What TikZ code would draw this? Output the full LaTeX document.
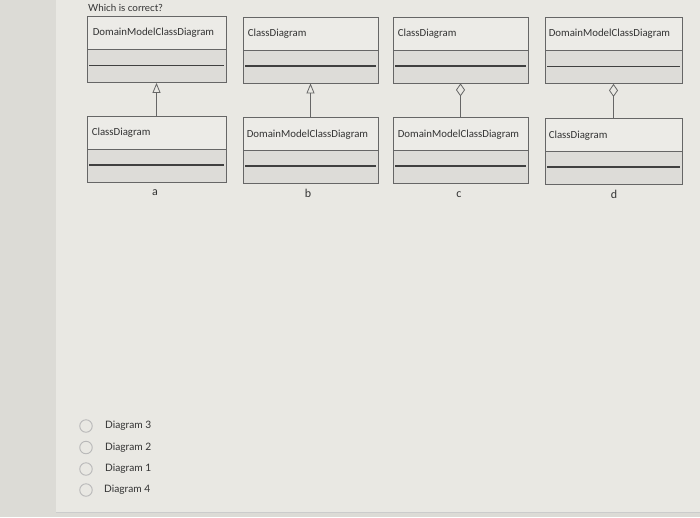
\documentclass[tikz,border=0pt]{standalone}
\usepackage{fontspec}
\setmainfont{Carlito}
\newfontfamily\uifont{Lato}
\usetikzlibrary{arrows.meta}
\definecolor{strip}{HTML}{DCDBD6}
\definecolor{panel}{HTML}{E9E8E3}
\definecolor{namefill}{HTML}{ECEBE7}
\definecolor{compfill}{HTML}{DDDCD8}
\definecolor{boxline}{HTML}{666666}
\definecolor{txt}{HTML}{333333}
\tikzset{
  cls/.style={draw=boxline, line width=0.8pt, fill=namefill, rectangle,
    minimum width=#1, minimum height=66pt, inner sep=0pt,
    path picture={
      \fill[compfill] ([yshift=-33pt]path picture bounding box.north west)
        rectangle (path picture bounding box.south east);
      \draw[boxline, line width=0.8pt] ([yshift=-33pt]path picture bounding box.north west)
        -- ([yshift=-33pt]path picture bounding box.north east);
      \draw[black!75, line width=1.4pt] ([xshift=2pt,yshift=-49pt]path picture bounding box.north west)
        -- ([xshift=-2pt,yshift=-49pt]path picture bounding box.north east);
    }},
  clsname/.style={anchor=west, font=\fontsize{10.8pt}{12pt}\selectfont, text=txt, inner sep=0pt},
  lbl/.style={font=\fontsize{12pt}{14pt}\selectfont, text=txt, inner sep=0pt},
  gen/.style={draw=boxline, line width=0.8pt, -{Triangle[open, length=10pt, width=8pt]}},
  agg/.style={draw=boxline, line width=0.8pt, -{Diamond[open, length=13pt, width=9pt]}},
  radio/.style={circle, draw=black!28, line width=0.9pt, minimum size=12.5pt, inner sep=0pt},
  opt/.style={anchor=west, font=\uifont\fontsize{10.2pt}{12pt}\selectfont, text=txt, inner sep=0pt},
}
\begin{document}
\begin{tikzpicture}[x=1pt, y=-1pt]
\useasboundingbox (0,0) rectangle (700,517);
\fill[strip] (0,0) rectangle (700,517);
\fill[panel] (56,0) rectangle (700,512);
\draw[black!20, line width=0.8pt] (56,512.5) -- (700,512.5);
\node[anchor=west, font=\uifont\fontsize{9.8pt}{11pt}\selectfont, text=txt, inner sep=0pt] (title) at (88,7.5) {Which is correct?};
% a
\node[cls=139pt] (at) at (156.5,49.5) {};
\node[cls=139pt] (ab) at (156.5,149) {};
\node[clsname] (atn) at ([xshift=6pt,yshift=-16.5pt]at.north west) {DomainModelClassDiagram};
\node[clsname] (abn) at ([xshift=5pt,yshift=-17pt]ab.north west) {ClassDiagram};
\draw[gen] (ab.north) -- (at.south);
\node[lbl] (la) at (155,193) {a};
% b
\node[cls=135pt] (bt) at (310.5,50) {};
\node[cls=135pt] (bb) at (310.5,150) {};
\node[clsname] (btn) at ([xshift=5pt,yshift=-17pt]bt.north west) {ClassDiagram};
\node[clsname] (bbn) at ([xshift=4pt,yshift=-18pt]bb.north west) {DomainModelClassDiagram};
\draw[gen] (bb.north) -- (bt.south);
\node[lbl] (lb) at (308,193) {b};
% c
\node[cls=135pt] (ct) at (460.5,50) {};
\node[cls=135pt] (cb) at (460.5,150) {};
\node[clsname] (ctn) at ([xshift=5pt,yshift=-17.5pt]ct.north west) {ClassDiagram};
\node[clsname] (cbn) at ([xshift=5pt,yshift=-18pt]cb.north west) {DomainModelClassDiagram};
\draw[agg] (cb.north) -- (ct.south);
\node[lbl] (lc) at (459,195) {c};
% d
\node[cls=137pt] (dt) at (613.5,50.5) {};
\node[cls=137pt] (db) at (613.5,151) {};
\node[clsname] (dtn) at ([xshift=4pt,yshift=-17pt]dt.north west) {DomainModelClassDiagram};
\node[clsname] (dbn) at ([xshift=4pt,yshift=-18pt]db.north west) {ClassDiagram};
\draw[agg] (db.north) -- (dt.south);
\node[lbl] (ld) at (614,194) {d};
% options
\node[radio] (r1) at (86,426) {};
\node[radio] (r2) at (86,447.5) {};
\node[radio] (r3) at (86,469) {};
\node[radio] (r4) at (86,490) {};
\node[opt] (o1) at (105,426) {Diagram 3};
\node[opt] (o2) at (105,447.5) {Diagram 2};
\node[opt] (o3) at (105,469) {Diagram 1};
\node[opt] (o4) at (104,490) {Diagram 4};
\end{tikzpicture}
\end{document}
